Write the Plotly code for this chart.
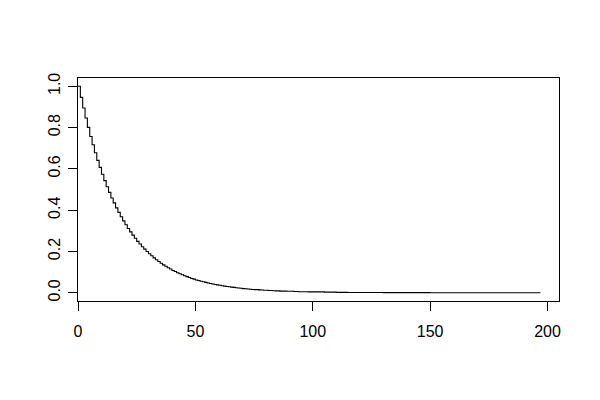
import plotly.graph_objects as go

# Survival estimates (time, survival probability)
times = list(range(0, 91)) + [92, 94, 96, 98, 100, 105, 110, 115, 120, 130, 140, 150, 160, 170, 180, 190, 197]
survival = [
    1.000, 0.946, 0.895, 0.846, 0.801, 0.757, 0.717, 0.678, 0.641, 0.607,
    0.574, 0.543, 0.513, 0.486, 0.459, 0.435, 0.411, 0.389, 0.368, 0.348,
    0.329, 0.311, 0.295, 0.279, 0.264, 0.249, 0.236, 0.223, 0.211, 0.200,
    0.189, 0.179, 0.169, 0.160, 0.151, 0.143, 0.135, 0.128, 0.121, 0.115,
    0.108, 0.103, 0.097, 0.092, 0.087, 0.082, 0.078, 0.074, 0.069, 0.066,
    0.062, 0.059, 0.056, 0.053, 0.050, 0.047, 0.045, 0.042, 0.040, 0.038,
    0.036, 0.034, 0.032, 0.030, 0.029, 0.027, 0.026, 0.024, 0.023, 0.022,
    0.020, 0.019, 0.018, 0.017, 0.016, 0.015, 0.015, 0.014, 0.013, 0.012,
    0.012, 0.011, 0.011, 0.010, 0.009, 0.009, 0.008, 0.008, 0.008, 0.007,
    0.007,
    0.006, 0.005, 0.005, 0.004, 0.004, 0.003, 0.002, 0.0015, 0.001, 0.0008,
    0.0005, 0.0003, 0.0002, 0.0001, 0.0001, 0.00005, 0.00005,
]

x_ticks = [0, 50, 100, 150, 200]
y_ticks = [0.0, 0.2, 0.4, 0.6, 0.8, 1.0]
y_tick_labels = ["0.0", "0.2", "0.4", "0.6", "0.8", "1.0"]

fig = go.Figure()
fig.add_trace(go.Scatter(
    x=times, y=survival, mode="lines",
    line=dict(color="black", width=1.1, shape="hv"),
    showlegend=False, hoverinfo="skip",
))

axis_common = dict(
    showgrid=False, zeroline=False, showline=True, mirror=True,
    linecolor="black", linewidth=1, ticks="outside", ticklen=9,
    tickcolor="black", tickwidth=1, automargin=False,
    tickfont=dict(family="Liberation Sans, Arial", size=16, color="black"),
)
fig.update_xaxes(range=[0, 204.9], tickvals=x_ticks, ticklabelstandoff=7, **axis_common)
fig.update_yaxes(range=[-0.04, 1.04], tickvals=y_ticks, ticktext=y_tick_labels,
                 tickangle=-90, ticklabelstandoff=2, **axis_common)

fig.update_layout(
    width=600, height=400,
    margin=dict(l=78, r=41, t=78, b=99),
    plot_bgcolor="white", paper_bgcolor="white",
)

fig.write_html("out.html", config={"displayModeBar": False},
               post_script="document.body.style.margin='0';")
